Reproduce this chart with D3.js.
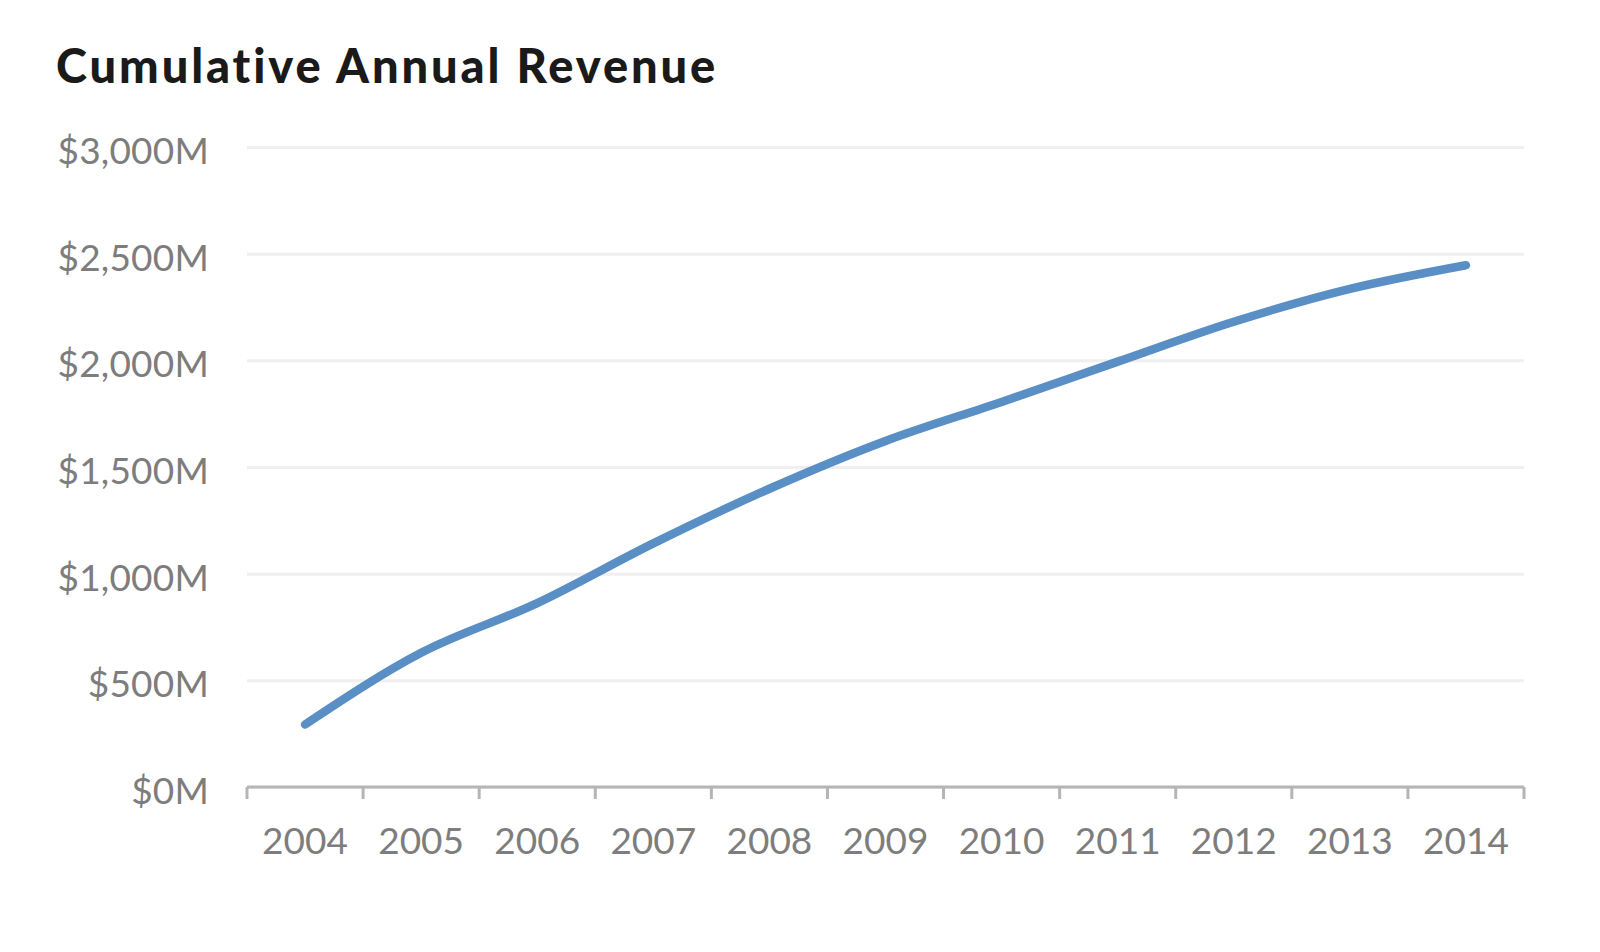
<!DOCTYPE html>
<html>
<head>
<meta charset="utf-8">
<script src="https://cdn.jsdelivr.net/npm/d3@7"></script>
<style>
  body { margin: 0; background: #fff; }
  text { font-family: Lato, "Open Sans", sans-serif; }
</style>
</head>
<body>
<svg id="chart"></svg>
<script>
const width = 1600;
const height = 952;

// values, $M
const years = ["2004", "2005", "2006", "2007", "2008", "2009", "2010", "2011", "2012", "2013", "2014"];
const revenue = [293, 629, 862, 1142, 1398, 1622, 1805, 1994, 2181, 2335, 2446];
const yTicks = [0, 500, 1000, 1500, 2000, 2500, 3000];

const margin = {top: 147, right: 76, bottom: 165, left: 247};

const svg = d3.select("#chart")
    .attr("width", width)
    .attr("height", height);

svg.append("text")
    .attr("x", 56)
    .attr("y", 83)
    .attr("font-size", 47)
    .attr("font-weight", 900)
    .attr("letter-spacing", 2.9)
    .attr("fill", "#1a1a1a")
    .text("Cumulative Annual Revenue");

const x = d3.scaleBand()
    .domain(years)
    .range([margin.left, width - margin.right]);

const y = d3.scaleLinear()
    .domain([0, 3000])
    .range([height - margin.bottom, margin.top]);

// gridlines + y labels
const yAxis = svg.append("g")
    .attr("transform", "translate(" + margin.left + ",0)")
    .call(d3.axisLeft(y)
        .tickValues(yTicks)
        .tickSize(-(width - margin.left - margin.right))
        .tickPadding(38)
        .tickFormat(function(d) { return "$" + d3.format(",")(d) + "M"; }));
yAxis.select(".domain").remove();
yAxis.selectAll(".tick line")
    .attr("stroke", "#efefef")
    .attr("stroke-width", 3);
yAxis.selectAll(".tick text")
    .attr("font-size", 37)
    .attr("font-weight", 400)
    .attr("letter-spacing", 0.2)
    .attr("dy", "0.45em")
    .attr("fill", "#7d7d7d")
    .attr("font-family", "Lato, sans-serif");

// x axis with ticks on band edges
const xAxis = svg.append("g")
    .attr("transform", "translate(0," + (height - margin.bottom) + ")");
xAxis.append("line")
    .attr("x1", margin.left)
    .attr("x2", width - margin.right)
    .attr("stroke", "#b5b5b5")
    .attr("stroke-width", 3);
const edges = years.map(function(d) { return x(d); }).concat([x.range()[1]]);
xAxis.selectAll(".edge")
    .data(edges)
    .enter().append("line")
    .attr("class", "edge")
    .attr("x1", function(d) { return d; })
    .attr("x2", function(d) { return d; })
    .attr("y1", 0)
    .attr("y2", 12)
    .attr("stroke", "#b5b5b5")
    .attr("stroke-width", 3);
xAxis.selectAll(".label")
    .data(years)
    .enter().append("text")
    .attr("class", "label")
    .attr("x", function(d) { return x(d) + x.bandwidth() / 2; })
    .attr("y", 67)
    .attr("text-anchor", "middle")
    .attr("font-size", 37)
    .attr("font-weight", 400)
    .attr("fill", "#7d7d7d")
    .text(function(d) { return d; });

// revenue line
const line = d3.line()
    .x(function(d, i) { return x(years[i]) + x.bandwidth() / 2; })
    .y(function(d) { return y(d); })
    .curve(d3.curveMonotoneX);

svg.append("path")
    .datum(revenue)
    .attr("fill", "none")
    .attr("stroke", "#5a8fc6")
    .attr("stroke-width", 8.5)
    .attr("stroke-linecap", "round")
    .attr("stroke-linejoin", "round")
    .attr("d", line);
</script>
</body>
</html>
